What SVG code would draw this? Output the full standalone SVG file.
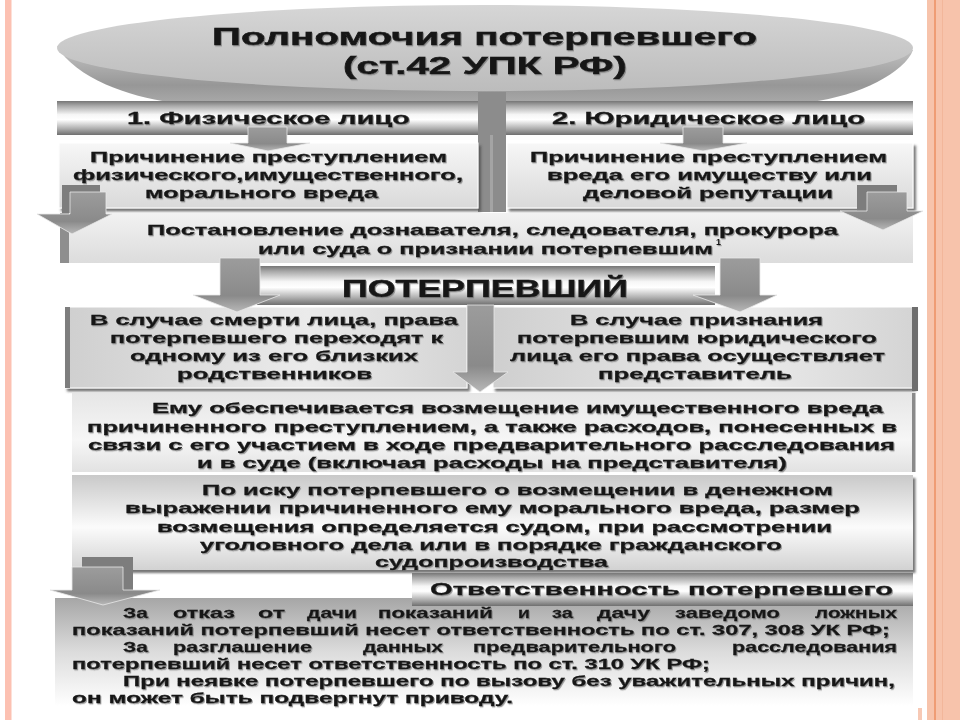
<svg xmlns="http://www.w3.org/2000/svg" width="960" height="720" viewBox="0 0 960 720">
<defs>
<linearGradient id="gEll" x1="0" y1="0" x2="0" y2="1"><stop offset="0" stop-color="#d6d6d6"/><stop offset="1" stop-color="#bcbcbc"/></linearGradient>
<linearGradient id="gEllSh" x1="0" y1="0" x2="0" y2="1"><stop offset="0" stop-color="#c4c4c4"/><stop offset="0.7" stop-color="#979797"/><stop offset="1" stop-color="#a8a8a8"/></linearGradient>
<linearGradient id="gMetal" x1="0" y1="0" x2="0" y2="1"><stop offset="0" stop-color="#767676"/><stop offset="0.14" stop-color="#a9a9a9"/><stop offset="0.4" stop-color="#f6f6f6"/><stop offset="0.55" stop-color="#ffffff"/><stop offset="0.8" stop-color="#b2b2b2"/><stop offset="1" stop-color="#6f6f6f"/></linearGradient>
<linearGradient id="gLight" x1="0" y1="0" x2="0" y2="1"><stop offset="0" stop-color="#f7f7f7"/><stop offset="1" stop-color="#d9d9d9"/></linearGradient>
<linearGradient id="gRow3" x1="0" y1="0" x2="0" y2="1"><stop offset="0" stop-color="#f2f2f2"/><stop offset="1" stop-color="#dcdcdc"/></linearGradient>
<linearGradient id="gMid" x1="0" y1="0" x2="1" y2="0"><stop offset="0" stop-color="#cfcfcf"/><stop offset="0.6" stop-color="#ebebeb"/><stop offset="1" stop-color="#d4d4d4"/></linearGradient>
<linearGradient id="gRow6" x1="0" y1="0" x2="0" y2="1"><stop offset="0" stop-color="#e6e6e6"/><stop offset="0.6" stop-color="#f6f6f6"/><stop offset="1" stop-color="#e2e2e2"/></linearGradient>
<linearGradient id="gRow7" x1="0" y1="0" x2="0" y2="1"><stop offset="0" stop-color="#c9c9c9"/><stop offset="0.55" stop-color="#fbfbfb"/><stop offset="1" stop-color="#d2d2d2"/></linearGradient>
<linearGradient id="gRow9" x1="0" y1="0" x2="0" y2="1"><stop offset="0" stop-color="#a6a6a6"/><stop offset="0.5" stop-color="#dcdcdc"/><stop offset="1" stop-color="#ffffff"/></linearGradient>
<linearGradient id="gArr" x1="0" y1="0" x2="0" y2="1"><stop offset="0" stop-color="#9c9c9c"/><stop offset="0.7" stop-color="#8a8a8a"/><stop offset="1" stop-color="#b8b8b8"/></linearGradient>
<filter id="ts" filterUnits="userSpaceOnUse" x="0" y="0" width="960" height="720"><feDropShadow dx="1" dy="1.2" stdDeviation="0.6" flood-color="#7a7a7a" flood-opacity="0.75"/></filter>
<filter id="bs" x="-5%" y="-10%" width="110%" height="130%"><feDropShadow dx="2.5" dy="3" stdDeviation="1.2" flood-color="#4a4a4a" flood-opacity="0.75"/></filter>
<style>
text{font-family:"Liberation Sans",Arial,sans-serif;font-weight:bold;fill:#141414;stroke:#141414;stroke-width:0.3;}
.t{font-size:15px;text-anchor:middle;}
.ts{font-size:15px;}
.big{font-size:24px;text-anchor:middle;stroke-width:0.5;}
.bnd{font-size:17px;text-anchor:middle;}
.sup{font-size:9px;stroke-width:0;}
.metal{fill:url(#gMetal);}
.arr{fill:url(#gArr);stroke:#e8e8e8;stroke-width:0.8;}
.arrb{fill:#7d7d7d;}
</style>
</defs>
<rect x="0" y="0" width="960" height="720" fill="#ffffff"/>
<g id="frame">
<rect x="5" y="0" width="6.5" height="720" fill="#fcc1b2"/>
<rect x="927" y="0" width="33" height="720" fill="#f7c3ab"/>
<rect x="934" y="0" width="2" height="720" fill="#ef9c74"/>
<rect x="942" y="0" width="1" height="720" fill="#f2b69a"/>
<rect x="918" y="708" width="4" height="12" fill="#f7c9b5"/>
</g>
<g id="title">
<path d="M57,46 C75,78 130,97 170,102 L810,102 C860,96 905,72 913,50 Z" fill="url(#gEllSh)"/>
<ellipse cx="485" cy="48" rx="428" ry="43" fill="url(#gEll)"/>
<rect x="478" y="92" width="28" height="120" fill="#8c8c8c"/>
<rect x="490" y="135" width="3" height="77" fill="#a4a4a4"/>
<g filter="url(#ts)">
<text class="big" x="484.5" y="45" textLength="545" lengthAdjust="spacingAndGlyphs">Полномочия потерпевшего</text>
<text class="big" x="485" y="74" textLength="284" lengthAdjust="spacingAndGlyphs">(ст.42 УПК РФ)</text>
</g>
</g>
<g id="band-fiz">
<rect x="57" y="101" width="421" height="34" class="metal"/>
<text class="bnd" x="268.5" y="124" textLength="283" lengthAdjust="spacingAndGlyphs" filter="url(#ts)">1. Физическое лицо</text>
</g>
<g id="band-yur">
<rect x="506" y="101" width="407" height="34" class="metal"/>
<text class="bnd" x="708.5" y="124" textLength="313" lengthAdjust="spacingAndGlyphs" filter="url(#ts)">2. Юридическое лицо</text>
</g>
<g id="box-fiz">
<rect x="59" y="143" width="419" height="65" fill="url(#gLight)" stroke="#ffffff" stroke-width="1" filter="url(#bs)"/>
<g filter="url(#ts)">
<text class="t" x="268.5" y="162" textLength="357" lengthAdjust="spacingAndGlyphs">Причинение преступлением</text>
<text class="t" x="268" y="180" textLength="390" lengthAdjust="spacingAndGlyphs">физического,имущественного,</text>
<text class="t" x="261.5" y="198" textLength="233" lengthAdjust="spacingAndGlyphs">морального вреда</text>
</g>
</g>
<g id="box-yur">
<rect x="507" y="143" width="406" height="65" fill="url(#gLight)" stroke="#ffffff" stroke-width="1" filter="url(#bs)"/>
<g filter="url(#ts)">
<text class="t" x="708.5" y="162" textLength="357" lengthAdjust="spacingAndGlyphs">Причинение преступлением</text>
<text class="t" x="709.5" y="180" textLength="325" lengthAdjust="spacingAndGlyphs">вреда его имуществу или</text>
<text class="t" x="708" y="198" textLength="250" lengthAdjust="spacingAndGlyphs">деловой репутации</text>
</g>
</g>
<g id="box-post">
<rect x="60" y="213" width="853" height="50" fill="url(#gRow3)"/>
<rect x="60" y="213" width="9" height="50" fill="#8e8e8e"/>
<g filter="url(#ts)">
<text class="t" x="492.5" y="235" textLength="691" lengthAdjust="spacingAndGlyphs">Постановление дознавателя, следователя, прокурора</text>
<text class="t" x="485.5" y="254" textLength="455" lengthAdjust="spacingAndGlyphs">или суда о признании потерпевшим</text>
<text class="sup" x="716" y="245">1</text>
</g>
</g>
<g id="band-poterp">
<rect x="257" y="266" width="458" height="39" class="metal"/>
<text class="big" x="485" y="297" textLength="286" lengthAdjust="spacingAndGlyphs" filter="url(#ts)">ПОТЕРПЕВШИЙ</text>
</g>
<g id="box-death">
<rect x="65" y="307" width="402" height="81" fill="url(#gMid)" stroke="#ffffff" stroke-width="1" filter="url(#bs)"/>
<rect x="65" y="307" width="5" height="81" fill="#7e7e7e"/>
<g filter="url(#ts)">
<text class="t" x="274" y="325" textLength="368" lengthAdjust="spacingAndGlyphs">В случае смерти лица, права</text>
<text class="t" x="276.5" y="343" textLength="333" lengthAdjust="spacingAndGlyphs">потерпевшего переходят к</text>
<text class="t" x="274" y="361" textLength="288" lengthAdjust="spacingAndGlyphs">одному из его близких</text>
<text class="t" x="274.5" y="379" textLength="195" lengthAdjust="spacingAndGlyphs">родственников</text>
</g>
</g>
<g id="box-legal">
<rect x="493" y="307" width="420" height="81" fill="url(#gMid)" stroke="#ffffff" stroke-width="1" filter="url(#bs)"/>
<rect x="912" y="307" width="6" height="84" fill="#6e6e6e"/>
<g filter="url(#ts)">
<text class="t" x="696.5" y="325" textLength="253" lengthAdjust="spacingAndGlyphs">В случае признания</text>
<text class="t" x="697" y="343" textLength="360" lengthAdjust="spacingAndGlyphs">потерпевшим юридического</text>
<text class="t" x="697.5" y="361" textLength="375" lengthAdjust="spacingAndGlyphs">лица его права осуществляет</text>
<text class="t" x="695" y="379" textLength="194" lengthAdjust="spacingAndGlyphs">представитель</text>
</g>
</g>
<g id="box-comp">
<rect x="72" y="393" width="841" height="79" fill="url(#gRow6)"/>
<rect x="912" y="393" width="3.5" height="79" fill="#8a8a8a"/>
<g filter="url(#ts)">
<text class="t" x="517.5" y="413" textLength="731" lengthAdjust="spacingAndGlyphs">Ему обеспечивается возмещение имущественного вреда</text>
<text class="t" x="492" y="432" textLength="810" lengthAdjust="spacingAndGlyphs">причиненного преступлением, а также расходов, понесенных в</text>
<text class="t" x="491.5" y="450" textLength="807" lengthAdjust="spacingAndGlyphs">связи с его участием в ходе предварительного расследования</text>
<text class="t" x="492" y="468" textLength="590" lengthAdjust="spacingAndGlyphs">и в суде (включая расходы на представителя)</text>
</g>
</g>
<g id="box-moral">
<rect x="72" y="475" width="841" height="95" fill="url(#gRow7)" filter="url(#bs)"/>
<g filter="url(#ts)">
<text class="t" x="517.5" y="495" textLength="631" lengthAdjust="spacingAndGlyphs">По иску потерпевшего о возмещении в денежном</text>
<text class="t" x="492.5" y="513" textLength="735" lengthAdjust="spacingAndGlyphs">выражении причиненного ему морального вреда, размер</text>
<text class="t" x="494.5" y="532" textLength="675" lengthAdjust="spacingAndGlyphs">возмещения определяется судом, при рассмотрении</text>
<text class="t" x="491" y="550" textLength="582" lengthAdjust="spacingAndGlyphs">уголовного дела или в порядке гражданского</text>
<text class="t" x="491.5" y="567" textLength="233" lengthAdjust="spacingAndGlyphs">судопроизводства</text>
</g>
</g>
<g id="box-resp">
<rect x="55" y="598" width="858" height="108" fill="url(#gRow9)"/>
<g filter="url(#ts)">
<text class="ts" x="123" y="618" textLength="25" lengthAdjust="spacingAndGlyphs">За</text>
<text class="ts" x="173" y="618" textLength="62" lengthAdjust="spacingAndGlyphs">отказ</text>
<text class="ts" x="258" y="618" textLength="27" lengthAdjust="spacingAndGlyphs">от</text>
<text class="ts" x="307" y="618" textLength="50" lengthAdjust="spacingAndGlyphs">дачи</text>
<text class="ts" x="378" y="618" textLength="115" lengthAdjust="spacingAndGlyphs">показаний</text>
<text class="ts" x="518" y="618" textLength="12" lengthAdjust="spacingAndGlyphs">и</text>
<text class="ts" x="552" y="618" textLength="21" lengthAdjust="spacingAndGlyphs">за</text>
<text class="ts" x="597" y="618" textLength="53" lengthAdjust="spacingAndGlyphs">дачу</text>
<text class="ts" x="675" y="618" textLength="105" lengthAdjust="spacingAndGlyphs">заведомо</text>
<text class="ts" x="815" y="618" textLength="82" lengthAdjust="spacingAndGlyphs">ложных</text>
<text class="ts" x="72" y="635" textLength="818" lengthAdjust="spacingAndGlyphs">показаний потерпевший несет ответственность по ст. 307, 308 УК РФ;</text>
<text class="ts" x="123" y="652" textLength="25" lengthAdjust="spacingAndGlyphs">За</text>
<text class="ts" x="173" y="652" textLength="139" lengthAdjust="spacingAndGlyphs">разглашение</text>
<text class="ts" x="363" y="652" textLength="80" lengthAdjust="spacingAndGlyphs">данных</text>
<text class="ts" x="473" y="652" textLength="203" lengthAdjust="spacingAndGlyphs">предварительного</text>
<text class="ts" x="732" y="652" textLength="165" lengthAdjust="spacingAndGlyphs">расследования</text>
<text class="ts" x="72" y="669" textLength="638" lengthAdjust="spacingAndGlyphs">потерпевший несет ответственность по ст. 310 УК РФ;</text>
<text class="ts" x="123" y="686" textLength="772" lengthAdjust="spacingAndGlyphs">При неявке потерпевшего по вызову без уважительных причин,</text>
<text class="ts" x="72" y="703" textLength="441" lengthAdjust="spacingAndGlyphs">он может быть подвергнут приводу.</text>
</g>
</g>
<g id="band-otv">
<rect x="412" y="573" width="501" height="33" class="metal"/>
<text class="bnd" x="661.5" y="595" textLength="463" lengthAdjust="spacingAndGlyphs" filter="url(#ts)">Ответственность потерпевшего</text>
</g>
<g id="connectors">
<path class="arr" d="M248,127 H287 V143 H310 L268,151 L230,143 H248 Z"/>
<path class="arr" d="M683,127 H723 V143 H747 L703,151 L660,143 H683 Z"/>
<rect class="arrb" x="62" y="185" width="38" height="28"/>
<path class="arr" d="M70,192 H106 V214 H112 L72,234 L37,214 H70 Z"/>
<rect class="arrb" x="857" y="185" width="40" height="28"/>
<path class="arr" d="M867,192 H907 V211 H923 L883,230 L840,211 H867 Z"/>
<path class="arr" d="M220,258 H260 V295 H280 L237,312 L193,295 H220 Z"/>
<path class="arr" d="M720,258 H760 V295 H777 L740,312 L693,295 H720 Z"/>
<path class="arr" d="M467,305 H494 V372 H508 L480,392 L453,372 H467 Z"/>
<rect class="arrb" x="82" y="557" width="51" height="33"/>
<path class="arr" d="M72,567 H123 V590 H160 L103,605 L50,590 H72 Z"/>
</g>
</svg>
